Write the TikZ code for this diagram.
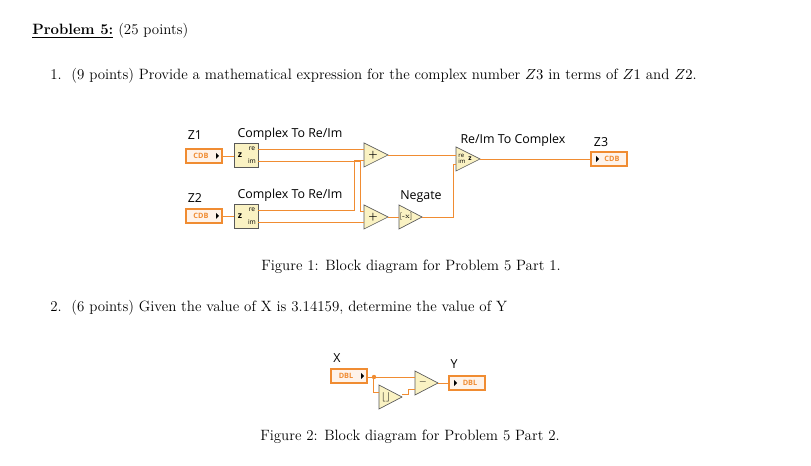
\documentclass[tikz,border=0pt]{standalone}
\usepackage{fontspec}
\newfontfamily\lvsans{Open Sans}
\begin{document}
\begin{tikzpicture}[x=0.75pt,y=-0.75pt,font=\fontsize{11.2}{13}\selectfont,
  wire/.style={draw=lvor,line width=0.7pt},
  lbl/.style={font=\lvsans\fontsize{9.3}{10}\selectfont,inner sep=0pt},
  tt/.style={font=\lvsans\bfseries\fontsize{5.5}{6}\selectfont,text=lvor,inner sep=0pt},
  term/.style={draw=lvor,line width=1.6pt,fill=lvor!10,minimum width=27pt,minimum height=11pt,inner sep=0pt},
  blk/.style={draw=gray!70!black,fill=lvbg,minimum width=18pt,minimum height=18pt,inner sep=0pt},
  tri/.style={draw=gray!70!black,fill=lvbg,line width=0.5pt}]
\definecolor{lvor}{RGB}{240,140,50}
\definecolor{lvbg}{RGB}{250,242,195}
\useasboundingbox (0,0) rectangle (811,466);
% text
\node[anchor=base west,inner sep=0pt] (title) at (32,35) {\textbf{\underline{Problem 5:}} (25 points)};
\node[anchor=base west,inner sep=0pt] (q1) at (50,80) {1.\ \ (9 points) Provide a mathematical expression for the complex number $Z3$ in terms of $Z1$ and $Z2$.};
\node[anchor=base,inner sep=0pt] (cap1) at (411,271) {Figure 1: Block diagram for Problem 5 Part 1.};
\node[anchor=base west,inner sep=0pt] (q2) at (50,312) {2.\ \ (6 points) Given the value of X is 3.14159, determine the value of Y};
\node[anchor=base,inner sep=0pt] (cap2) at (410,441) {Figure 2: Block diagram for Problem 5 Part 2.};
% ---- Figure 1
\node[lbl] (lz1) at (195,135) {Z1};
\node[lbl] (lz2) at (195,198) {Z2};
\node[lbl] (lz3) at (601,142) {Z3};
\node[lbl] (lc1) at (290,134) {Complex To Re/Im};
\node[lbl] (lc2) at (290,195) {Complex To Re/Im};
\node[lbl] (lrc) at (513,140) {Re/Im To Complex};
\node[lbl] (lneg) at (421,197) {Negate};
\foreach \n/\y in {z1/156,z2/216}{
  \node[term] (\n) at (204,\y) {};
  \node[tt] at (201,\y) {CDB};
  \fill (216,\y-3) -- (219,\y) -- (216,\y+3) -- cycle;
}
\node[term] (z3) at (609,159) {};
\node[tt] at (612,159) {CDB};
\fill (596,156) -- (599,159) -- (596,162) -- cycle;
\foreach \n/\y in {c1/155,c2/216}{
  \node[blk] (\n) at (246,\y) {};
  \node[font=\lvsans\bfseries\fontsize{6.5}{6}\selectfont,inner sep=0pt] at (240,\y) {z};
  \node[font=\lvsans\fontsize{5}{5}\selectfont,inner sep=0pt] at (252,\y-6) {re};
  \node[font=\lvsans\fontsize{5}{5}\selectfont,inner sep=0pt] at (252,\y+6) {im};
}
% triangles
\draw[tri] (364,143) -- (388,155) -- (364,167) -- cycle;
\node[font=\bfseries\fontsize{7}{7}\selectfont,inner sep=0pt] (a1) at (373,155) {+};
\draw[tri] (364,205) -- (388,217) -- (364,229) -- cycle;
\node[font=\bfseries\fontsize{7}{7}\selectfont,inner sep=0pt] (a2) at (373,217) {+};
\draw[tri] (399,205) -- (422,217) -- (399,229) -- cycle;
\node[font=\fontsize{5.5}{5}\selectfont,inner sep=0pt] (ng) at (406,217) {[-x]};
\draw[tri] (456,147) -- (480,159) -- (456,171) -- cycle;
\node[font=\lvsans\fontsize{4.5}{5}\selectfont,inner sep=0pt,align=left] (rc) at (462,159) {re\\im};
\node[font=\lvsans\bfseries\fontsize{5}{5}\selectfont,inner sep=0pt] at (470,159) {z};
% wires
\draw[wire] (222,156) -- (234,156);
\draw[wire] (222,216) -- (234,216);
\draw[wire] (258,149) -- (364,149);
\draw[wire] (258,161) -- (360,161) -- (360,211) -- (364,211);
\draw[wire] (258,210) -- (354,210) -- (354,160) -- (364,160);
\draw[wire] (258,222) -- (364,222);
\draw[wire] (388,155) -- (456,155);
\draw[wire] (388,217) -- (399,217);
\draw[wire] (422,217) -- (453,217) -- (453,164) -- (456,164);
\draw[wire] (480,159) -- (592,159);
% ---- Figure 2
\node[lbl] (lx) at (337,358) {X};
\node[lbl] (ly) at (454,364) {Y};
\node[term] (x) at (349,376) {};
\node[tt] at (346,376) {DBL};
\fill (361,373) -- (364,376) -- (361,379) -- cycle;
\node[term] (y) at (467,383) {};
\node[tt] at (470,383) {DBL};
\fill (454,380) -- (457,383) -- (454,386) -- cycle;
\draw[tri] (379,385) -- (402,397) -- (379,409) -- cycle;
\node[font=\bfseries\fontsize{7}{7}\selectfont,inner sep=0pt] (fl) at (386,397) {$\lfloor\rfloor$};
\draw[tri] (415,371) -- (438,383) -- (415,395) -- cycle;
\node[font=\bfseries\fontsize{7}{7}\selectfont,inner sep=0pt] (sb) at (423,383) {--};
\draw[wire] (366,377) -- (415,377);
\draw[wire] (373,377) -- (373,392) -- (379,392);
\fill[lvor] (374,377) circle (2.2);
\draw[wire] (402,394) -- (408,394) -- (408,389) -- (415,389);
\draw[wire] (438,383) -- (449,383);
\end{tikzpicture}
\end{document}
